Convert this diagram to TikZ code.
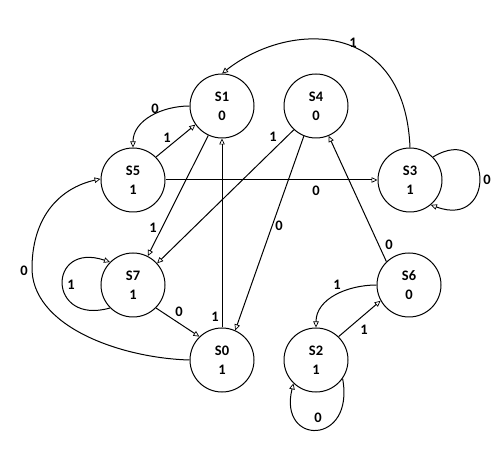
\documentclass[tikz,border=0pt]{standalone}
\usepackage{fontspec}
\setmainfont{Carlito}
\usetikzlibrary{arrows.meta}
\begin{document}
\begin{tikzpicture}[x=1pt,y=1pt,
  state/.style={circle,draw,line width=1pt,minimum size=64pt,inner sep=0pt,align=center,
    font=\fontsize{14.5}{19}\selectfont\bfseries},
  lbl/.style={inner sep=0pt,font=\fontsize{14.5}{17}\selectfont\bfseries},
  edge/.style={line width=1pt,-{Triangle[open,length=6pt,width=5.5pt,line width=0.7pt]}},
  ]
\useasboundingbox (0,0) rectangle (499,456);
\node[state] (S1) at (222,350) {S1\\0};
\node[state] (S4) at (316,350) {S4\\0};
\node[state] (S5) at (133,276) {S5\\1};
\node[state] (S3) at (410,276) {S3\\1};
\node[state] (S7) at (133,171) {S7\\1};
\node[state] (S6) at (409,171) {S6\\0};
\node[state] (S0) at (222,96) {S0\\1};
\node[state] (S2) at (316,96) {S2\\1};

\draw[edge] (S3.north) .. controls (405,436) and (290,436) .. (S1.north);
\draw[edge] (S3.45) .. controls (492,335) and (498,226) .. (S3.-50);
\draw[edge] (S1.west) to[out=180,in=90] (S5.north);
\draw[edge] (S5.45) -- (S1.215);
\draw[edge] (S5.east) -- (S3.west);
\draw[edge] (S4.227) -- (S7.42);
\draw[edge] (S1.245) -- (S7.63);
\draw[edge] (S4.248) -- (S0.66);
\draw[edge] (S0.north) -- (S1.south);
\draw[edge] (S6.134) -- (S4.293);
\draw[edge] (S7.225) .. controls (47,130) and (47,215) .. (S7.135);
\draw[edge] (S7.-45) -- (S0.134);
\draw[edge] (S0.west) .. controls (120,98) and (30,130) .. (32,190) .. controls (33,240) and (60,268) .. (S5.178);
\draw[edge] (S6.west) to[out=180,in=90] (S2.north);
\draw[edge] (S2.46) -- (S6.209);
\draw[edge] (S2.-35) .. controls (355,10) and (278,10) .. (S2.226);

\node[lbl] (l1) at (353,413) {1};
\node[lbl] (l2) at (487,276) {0};
\node[lbl] (l3) at (155,347) {0};
\node[lbl] (l4) at (167,318) {1};
\node[lbl] (l5) at (316,265) {0};
\node[lbl] (l6) at (273,319) {1};
\node[lbl] (l7) at (153,228) {1};
\node[lbl] (l8) at (279,230) {0};
\node[lbl] (l9) at (215,139) {1};
\node[lbl] (l10) at (389,211) {0};
\node[lbl] (l11) at (71,171) {1};
\node[lbl] (l12) at (179,144) {0};
\node[lbl] (l13) at (24,185) {0};
\node[lbl] (l14) at (337,171) {1};
\node[lbl] (l15) at (364,126) {1};
\node[lbl] (l16) at (318,38) {0};
\end{tikzpicture}
\end{document}
